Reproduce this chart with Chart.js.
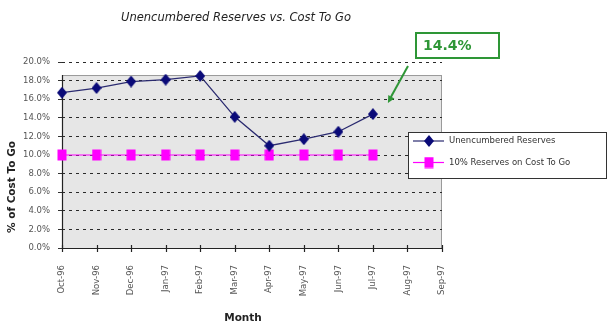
<!DOCTYPE html>
<html>
<head>
<meta charset="utf-8">
<script src="https://cdn.jsdelivr.net/npm/chart.js@4/dist/chart.umd.min.js"></script>
<style>
html,body{margin:0;padding:0;background:#fff;}
#wrap{position:relative;width:614px;height:327px;}
</style>
</head>
<body>
<div id="wrap"><canvas id="c" width="614" height="327"></canvas></div>
<script>
const months = ['Oct-96','Nov-96','Dec-96','Jan-97','Feb-97','Mar-97','Apr-97','May-97','Jun-97','Jul-97','Aug-97','Sep-97'];
const unencumbered = [16.7, 17.2, 17.9, 18.1, 18.5, 14.1, 11.0, 11.7, 12.5, 14.4];
const reserves10 = [10, 10, 10, 10, 10, 10, 10, 10, 10, 10];
const seriesNames = ['Unencumbered Reserves', '10% Reserves on Cost To Go'];
const chartTitle = 'Unencumbered Reserves vs. Cost To Go';
const yTitle = '% of Cost To Go';
const xTitle = 'Month';
const calloutText = '14.4%';
const calloutIndex = 9;
const plotTopValue = 18.6;

const navy = '#0a0a78';
const navyLine = '#2b2b70';
const magenta = '#ff00ff';
const green = '#2e9636';
const FONT = '"DejaVu Sans", sans-serif';

function makeMarker(kind, color) {
  const c = document.createElement('canvas');
  c.width = 10; c.height = 12;
  const g = c.getContext('2d');
  g.fillStyle = color;
  if (kind === 'diamond') {
    g.beginPath();
    g.moveTo(5, 0); g.lineTo(10, 6); g.lineTo(5, 12); g.lineTo(0, 6);
    g.closePath(); g.fill();
  } else {
    g.fillRect(0.5, 0.5, 9, 11);
  }
  return c;
}
const diamondImg = makeMarker('diamond', navy);
const squareImg = makeMarker('square', magenta);

const decor = {
  id: 'decor',
  beforeDraw(chart) {
    const {ctx, chartArea: a, scales: {y}} = chart;
    const top = y.getPixelForValue(plotTopValue);
    ctx.save();
    ctx.fillStyle = '#e6e6e6';
    ctx.fillRect(a.left, top, a.right - a.left, a.bottom - top);
    ctx.strokeStyle = '#9a9a9a';
    ctx.lineWidth = 1;
    ctx.strokeRect(a.left + 0.5, top + 0.5, a.right - a.left - 1, a.bottom - top);
    ctx.restore();
  },
  beforeDatasetsDraw(chart) {
    const {ctx, chartArea: a, scales: {x, y}} = chart;
    const top = y.getPixelForValue(plotTopValue);
    ctx.save();
    ctx.strokeStyle = '#222';
    ctx.lineWidth = 1.2;
    ctx.beginPath();
    ctx.moveTo(a.left + 0.5, top);
    ctx.lineTo(a.left + 0.5, a.bottom + 0.5);
    ctx.lineTo(a.right, a.bottom + 0.5);
    ctx.stroke();
    for (let i = 0; i < months.length; i++) {
      const px = Math.round(x.getPixelForValue(i)) + 0.5;
      ctx.beginPath();
      ctx.moveTo(px, a.bottom - 3);
      ctx.lineTo(px, a.bottom + 4);
      ctx.stroke();
    }
    ctx.restore();
  },
  afterDraw(chart) {
    const {ctx, scales: {x, y}} = chart;
    ctx.save();
    ctx.fillStyle = '#222';
    ctx.font = 'italic 11.5px ' + FONT;
    ctx.textAlign = 'center';
    ctx.textBaseline = 'middle';
    ctx.fillText(chartTitle, 236, 18);
    ctx.font = 'bold 10.5px ' + FONT;
    ctx.fillText(xTitle, 243, 318);
    ctx.save();
    ctx.translate(12, 187);
    ctx.rotate(-Math.PI / 2);
    ctx.fillText(yTitle, 0, 0);
    ctx.restore();
    // callout
    const bx = 416, by = 33, bw = 83, bh = 25;
    ctx.strokeStyle = green;
    ctx.lineWidth = 2;
    ctx.fillStyle = '#fff';
    ctx.fillRect(bx, by, bw, bh);
    ctx.strokeRect(bx, by, bw, bh);
    ctx.fillStyle = green;
    ctx.font = 'bold 14px ' + FONT;
    ctx.textAlign = 'left';
    ctx.fillText(calloutText, bx + 7, by + bh / 2 + 1);
    const tx = x.getPixelForValue(calloutIndex) + 15;
    const ty = y.getPixelForValue(unencumbered[calloutIndex]) - 11;
    const sx = 408, sy = 66;
    ctx.beginPath();
    ctx.moveTo(sx, sy);
    ctx.lineTo(tx + 3, ty - 6);
    ctx.stroke();
    const ang = Math.atan2(ty - sy, tx - sx);
    ctx.beginPath();
    ctx.moveTo(tx, ty);
    ctx.lineTo(tx - 8 * Math.cos(ang - 0.45), ty - 8 * Math.sin(ang - 0.45));
    ctx.lineTo(tx - 8 * Math.cos(ang + 0.45), ty - 8 * Math.sin(ang + 0.45));
    ctx.closePath();
    ctx.fill();
    // legend
    const lx = 408, ly = 132, lw = 198, lh = 46;
    ctx.fillStyle = '#fff';
    ctx.fillRect(lx, ly, lw, lh);
    ctx.strokeStyle = '#333';
    ctx.lineWidth = 1;
    ctx.strokeRect(lx + 0.5, ly + 0.5, lw, lh);
    chart.data.datasets.forEach((ds, i) => {
      const cy = ly + 9 + i * 21.5;
      ctx.strokeStyle = ds.borderColor;
      ctx.lineWidth = 1.2;
      ctx.beginPath();
      ctx.moveTo(lx + 5, cy);
      ctx.lineTo(lx + 36, cy);
      ctx.stroke();
      ctx.drawImage(ds.pointStyle, lx + 16, cy - 6);
      ctx.fillStyle = '#333';
      ctx.font = '8.5px ' + FONT;
      ctx.textAlign = 'left';
      ctx.fillText(ds.label, lx + 41, cy);
    });
    ctx.restore();
  }
};

new Chart(document.getElementById('c'), {
  type: 'line',
  data: {
    labels: months,
    datasets: [
      {
        label: seriesNames[0],
        data: unencumbered,
        borderColor: navyLine,
        borderWidth: 1.3,
        pointStyle: diamondImg,
        pointRadius: 6,
        pointBackgroundColor: navy,
        pointBorderColor: navy,
        tension: 0
      },
      {
        label: seriesNames[1],
        data: reserves10,
        borderColor: magenta,
        borderWidth: 1.2,
        pointStyle: squareImg,
        pointRadius: 6,
        pointBackgroundColor: magenta,
        pointBorderColor: magenta,
        tension: 0
      }
    ]
  },
  options: {
    responsive: false,
    animation: false,
    devicePixelRatio: 1,
    layout: {padding: {left: 0, top: 62, right: 172, bottom: 0}},
    plugins: {legend: {display: false}, title: {display: false}, tooltip: {enabled: false}},
    scales: {
      x: {
        type: 'category',
        offset: false,
        afterFit(s) { s.height = 79; },
        grid: {display: false, drawTicks: false},
        border: {display: false},
        ticks: {
          autoSkip: false,
          maxRotation: 90, minRotation: 90,
          padding: 17,
          color: '#555',
          font: {family: FONT, size: 8.5}
        }
      },
      y: {
        min: 0, max: 20,
        afterFit(s) { s.width = 62; },
        grid: {
          color: (c) => c.tick && c.tick.value === 0 ? 'rgba(0,0,0,0)' : '#2a2a2a',
          lineWidth: 1,
          drawTicks: true,
          tickLength: 4,
          tickColor: '#333',
          tickBorderDash: []
        },
        border: {display: false, dash: [3, 4]},
        ticks: {
          stepSize: 2,
          padding: 8,
          color: '#555',
          font: {family: FONT, size: 8.5},
          callback: (v) => v.toFixed(1) + '%'
        }
      }
    }
  },
  plugins: [decor]
});
</script>
</body>
</html>
